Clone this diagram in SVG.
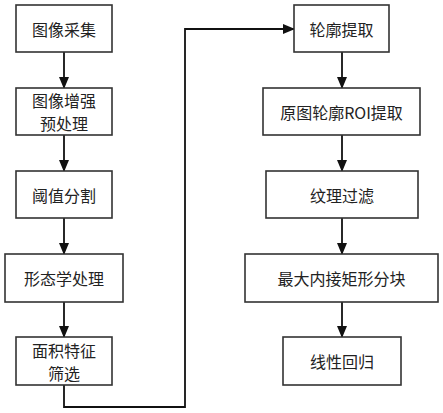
<svg xmlns="http://www.w3.org/2000/svg" width="443" height="413" viewBox="0 0 443 413">
<style>
.box{fill:#fff;stroke:#333;stroke-width:1.6}
.t{font-family:"Noto Sans CJK SC","Noto Sans",sans-serif;font-size:16px;fill:#222;text-anchor:middle;dominant-baseline:central}
.c{fill:none;stroke:#111;stroke-width:1.8}
</style>
<defs>
<marker id="ah" markerWidth="12" markerHeight="10" refX="11" refY="5" orient="auto" markerUnits="userSpaceOnUse">
<path d="M0,0 L12,5 L0,10 Z" fill="#111"/>
</marker>
</defs>
<rect width="443" height="413" fill="#fff"/>
<g id="connectors">
<line class="c" x1="64" y1="52" x2="64" y2="88" marker-end="url(#ah)"/>
<line class="c" x1="64" y1="135" x2="64" y2="171" marker-end="url(#ah)"/>
<line class="c" x1="64" y1="218" x2="64" y2="254" marker-end="url(#ah)"/>
<line class="c" x1="64" y1="302" x2="64" y2="337" marker-end="url(#ah)"/>
<polyline class="c" points="64,385 64,407 185,407 185,29 294,29" marker-end="url(#ah)"/>
<line class="c" x1="342" y1="52" x2="342" y2="88" marker-end="url(#ah)"/>
<line class="c" x1="342" y1="135" x2="342" y2="171" marker-end="url(#ah)"/>
<line class="c" x1="342" y1="218" x2="342" y2="254" marker-end="url(#ah)"/>
<line class="c" x1="342" y1="302" x2="342" y2="337" marker-end="url(#ah)"/>
</g>
<g id="n1"><rect class="box" x="16" y="5" width="96" height="47"/><text class="t" x="64" y="28.5">图像采集</text></g>
<g id="n2"><rect class="box" x="16" y="88" width="96" height="47"/><text class="t" x="64" y="100">图像增强</text><text class="t" x="64" y="123">预处理</text></g>
<g id="n3"><rect class="box" x="16" y="171" width="96" height="47"/><text class="t" x="64" y="194.5">阈值分割</text></g>
<g id="n4"><rect class="box" x="5" y="254" width="118" height="48"/><text class="t" x="64" y="278">形态学处理</text></g>
<g id="n5"><rect class="box" x="16" y="337" width="96" height="48"/><text class="t" x="64" y="349.5">面积特征</text><text class="t" x="64" y="372.5">筛选</text></g>
<g id="n6"><rect class="box" x="294" y="5" width="95" height="47"/><text class="t" x="341.5" y="28.5">轮廓提取</text></g>
<g id="n7"><rect class="box" x="263" y="88" width="157" height="47"/><text class="t" x="341.5" y="111.5">原图轮廓ROI提取</text></g>
<g id="n8"><rect class="box" x="266" y="171" width="152" height="47"/><text class="t" x="342" y="194.5">纹理过滤</text></g>
<g id="n9"><rect class="box" x="245" y="254" width="193" height="48"/><text class="t" x="341.5" y="278">最大内接矩形分块</text></g>
<g id="n10"><rect class="box" x="283" y="337" width="118" height="48"/><text class="t" x="342" y="361">线性回归</text></g>
</svg>
